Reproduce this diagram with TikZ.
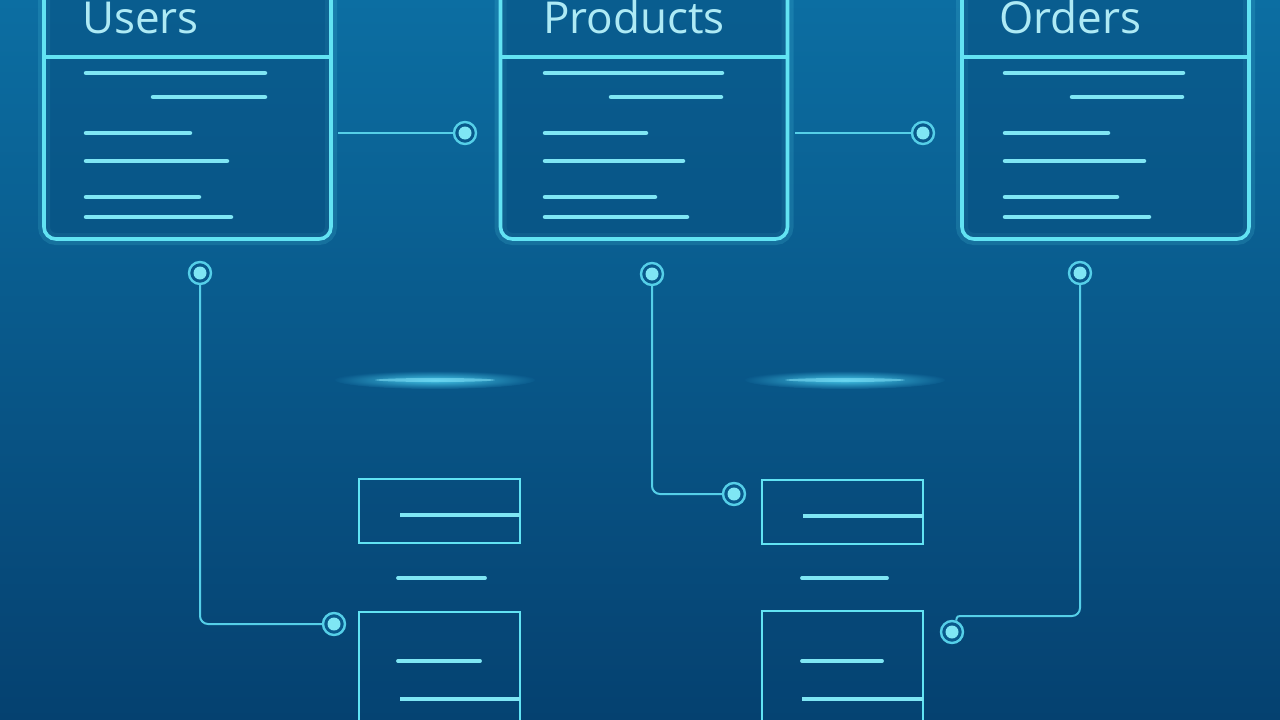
\documentclass[tikz,border=0pt]{standalone}
\usepackage{fontspec}
\setmainfont{Open Sans}
\usetikzlibrary{calc}
\definecolor{bgtop}{HTML}{0C6EA2}
\definecolor{bgmid}{HTML}{09598B}
\definecolor{bgbot}{HTML}{054170}
\definecolor{boxline}{HTML}{62E3F3}
\definecolor{fieldc}{HTML}{7FE6F4}
\definecolor{connc}{HTML}{55CFE8}
\definecolor{titlec}{HTML}{AEEAF5}
\definecolor{boxfill}{HTML}{074A7A}
\definecolor{glowc}{HTML}{4FD8F8}
\begin{document}
\begin{tikzpicture}[x=1pt,y=-1pt,
  bigbox/.style={draw=boxline, line width=3.6pt, rounded corners=12pt,
    fill=boxfill, fill opacity=0.45, minimum width=287pt, minimum height=259pt,
    inner sep=0pt, outer sep=0pt,
    preaction={draw=boxline, line width=12pt, draw opacity=0.14}},
  smallbox/.style={draw=boxline, line width=2.8pt, fill=boxfill, fill opacity=0.25,
    minimum width=161pt, inner sep=0pt, outer sep=0pt},
  divider/.style={draw=boxline, line width=4pt},
  field/.style={draw=fieldc, line width=4.5pt, line cap=round},
  sfield/.style={draw=fieldc, line width=3.8pt},
  conn/.style={draw=connc, line width=2pt},
  title/.style={text=titlec, font=\fontsize{44}{50}\selectfont, inner sep=0pt, anchor=base west},
  port/.style={circle, draw=connc, line width=2.4pt, minimum size=22pt, inner sep=0pt,
    fill=bgmid,
    path picture={\fill[fieldc] (path picture bounding box.center) circle (6.5pt);}},
]
\useasboundingbox (0,0) rectangle (1280,720);
\clip (0,0) rectangle (1280,720);
% background
\shade[top color=bgtop, middle color=bgmid, bottom color=bgbot] (0,0) rectangle (1280,720);
% glows
\foreach \gx in {435,845}{
  \shade[inner color=glowc!85!bgmid, outer color=bgmid] (\gx,380) ellipse (100 and 9);
  \fill[glowc!70!white, opacity=0.55] (\gx,380) ellipse (60 and 2);
}
% big boxes
\node[bigbox] (users) at (187.5,109.5) {};
\node[bigbox] (products) at (644,109.5) {};
\node[bigbox] (orders) at (1105.5,109.5) {};
\draw[divider] (users.west |- 0,57) -- (users.east |- 0,57);
\draw[divider] (products.west |- 0,57) -- (products.east |- 0,57);
\draw[divider] (orders.west |- 0,57) -- (orders.east |- 0,57);
\node[title] (tusers) at (82,33) {Users};
\node[title] (tproducts) at (543,33) {Products};
\node[title] (torders) at (999,33) {Orders};
% field lines
\foreach \a/\b/\y in {86/265/73, 153/265/97, 86/190/133, 86/227/161, 86/199/197, 86/231/217,
  545/722/73, 611/721/97, 545/646/133, 545/683/161, 545/655/197, 545/687/217,
  1005/1183/73, 1072/1182/97, 1005/1108/133, 1005/1144/161, 1005/1117/197, 1005/1149/217}{
  \draw[field] (\a,\y) -- (\b,\y);
}
% small boxes
\node[smallbox, minimum height=64pt] (lt) at (439.5,511) {};
\node[smallbox, minimum height=160pt] (lb) at (439.5,692) {};
\node[smallbox, minimum height=64pt] (rt) at (842.5,512) {};
\node[smallbox, minimum height=160pt] (rb) at (842.5,691) {};
\draw[sfield] (400,515) -- (lt.east |- 0,515);
\draw[sfield, line cap=round] (398,578) -- (485,578);
\draw[sfield, line cap=round] (398,661) -- (480,661);
\draw[sfield] (400,699) -- (lb.east |- 0,699);
\draw[sfield] (803,516) -- (rt.east |- 0,516);
\draw[sfield, line cap=round] (802,578) -- (887,578);
\draw[sfield, line cap=round] (802,661) -- (882,661);
\draw[sfield] (802,699) -- (rb.east |- 0,699);
% ports
\node[port] (pup) at (465,133) {};
\node[port] (ppo) at (923,133) {};
\node[port] (pud) at (200,273) {};
\node[port] (pue) at (334,624) {};
\node[port] (ppd) at (652,274) {};
\node[port] (ppe) at (734,494) {};
\node[port] (pod) at (1080,273) {};
\node[port] (poe) at (952,632) {};
\coordinate (ok) at (964,616);
% connectors
\draw[conn, shorten >=7pt] (pup.west) -- (users.east |- pup.west);
\draw[conn, shorten >=7pt] (ppo.west) -- (products.east |- ppo.west);
\draw[conn, rounded corners=8pt] (pud.south) |- (pue.west);
\draw[conn, rounded corners=8pt] (ppd.south) |- (ppe.west);
\draw[conn, rounded corners=8pt] (pod.south) |- (ok);
\draw[conn] (ok) .. controls (957,616) .. (poe.70);
\end{tikzpicture}
\end{document}
